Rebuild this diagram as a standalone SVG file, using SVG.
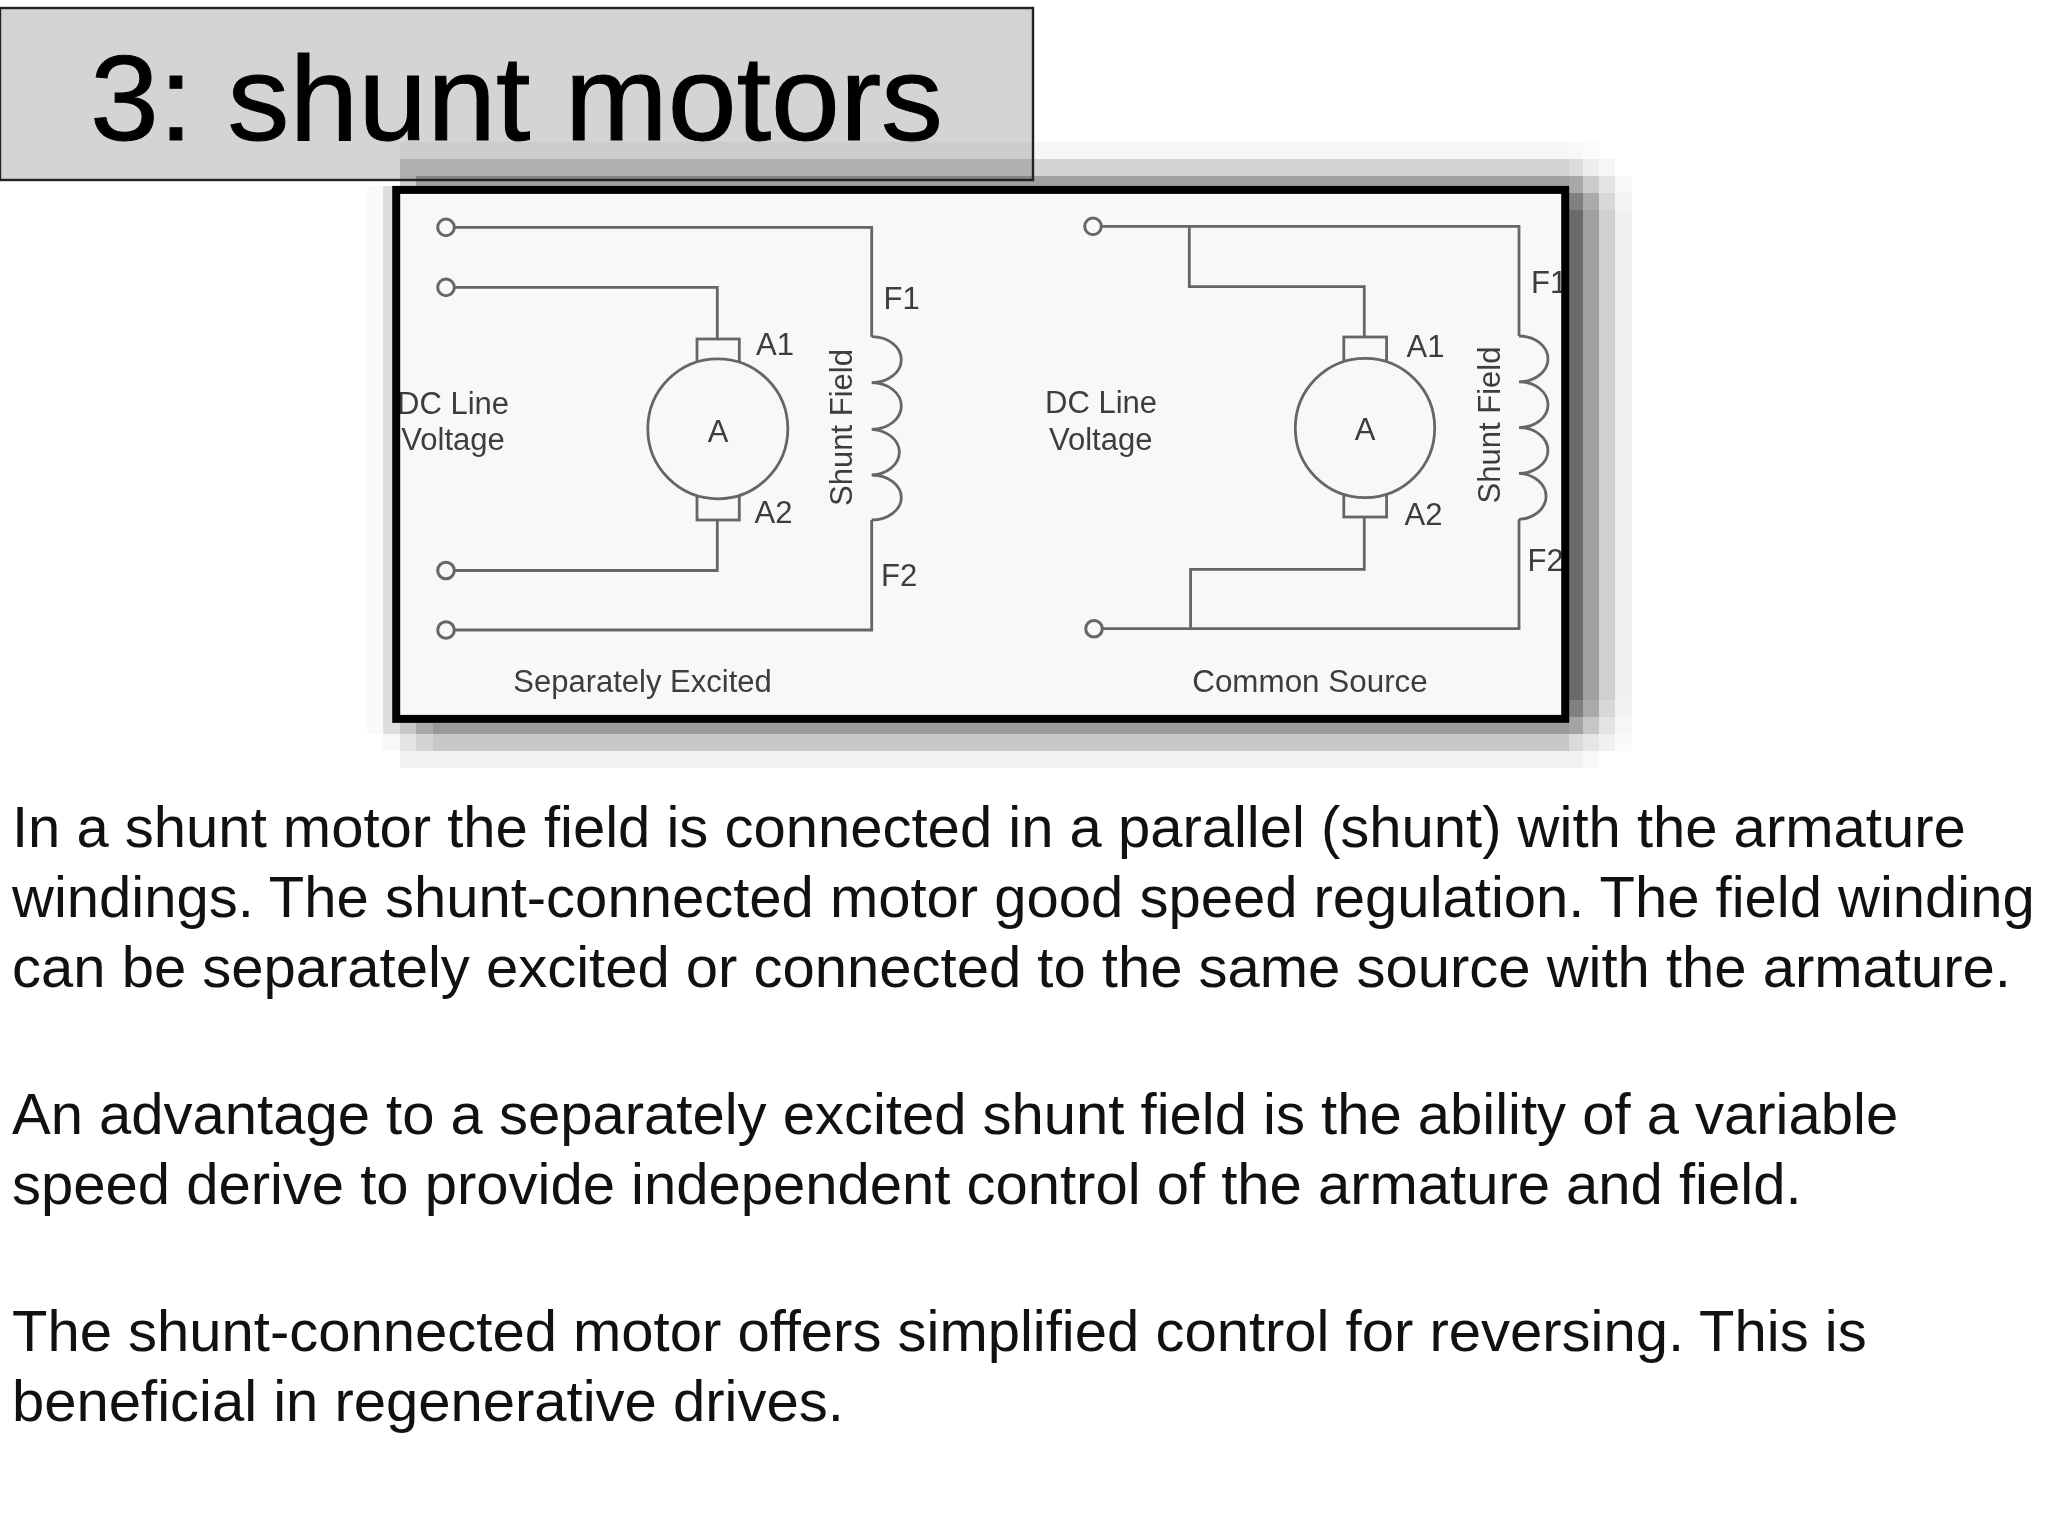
<svg xmlns="http://www.w3.org/2000/svg" width="2048" height="1536" viewBox="0 0 2048 1536">
<defs><filter id="soft" x="-2%" y="-2%" width="104%" height="104%"><feGaussianBlur stdDeviation="0.6"/></filter></defs>
<style>
.w{fill:none;stroke:#666;stroke-width:2.8}
.t{fill:#f8f8f8;stroke:#666;stroke-width:3}
.d{font-family:"Liberation Sans",Arial,sans-serif;font-size:31px;fill:#3c3c3c;text-anchor:middle}
.f{text-anchor:start}
.b{font-family:"Liberation Sans",Arial,sans-serif;font-size:58px;fill:#111}
</style>
<rect width="2048" height="1536" fill="#fff"/>
<g id="shadow" filter="url(#soft)">
<rect x="367" y="186" width="16" height="548" fill="#f9f9f9"/>
<rect x="383" y="186" width="9" height="540" fill="#dcdcdc"/>
<rect x="400" y="142" width="1169" height="17" fill="#f6f6f6"/>
<rect x="400" y="159" width="1169" height="17" fill="#d4d4d4"/>
<rect x="400" y="176" width="1169" height="10" fill="#d0d0d0"/>
<rect x="416" y="176" width="1153" height="10" fill="#a0a0a0"/>
<rect x="1569" y="210" width="14" height="490" fill="#6b6b6b"/>
<rect x="1583" y="210" width="16" height="490" fill="#a0a0a0"/>
<rect x="1599" y="210" width="16" height="490" fill="#d0d0d0"/>
<rect x="1615" y="210" width="17" height="490" fill="#f0f0f0"/>
<rect x="1569" y="142" width="14" height="17" fill="#f8f8f8"/>
<rect x="1583" y="142" width="16" height="17" fill="#fbfbfb"/>
<rect x="1569" y="159" width="14" height="17" fill="#dcdcdc"/>
<rect x="1583" y="159" width="16" height="17" fill="#eeeeee"/>
<rect x="1599" y="159" width="16" height="17" fill="#f6f6f6"/>
<rect x="1569" y="176" width="14" height="17" fill="#a8a8a8"/>
<rect x="1583" y="176" width="16" height="17" fill="#cccccc"/>
<rect x="1599" y="176" width="16" height="17" fill="#e4e4e4"/>
<rect x="1615" y="176" width="17" height="17" fill="#f8f8f8"/>
<rect x="1569" y="193" width="14" height="17" fill="#808080"/>
<rect x="1583" y="193" width="16" height="17" fill="#aaaaaa"/>
<rect x="1599" y="193" width="16" height="17" fill="#d8d8d8"/>
<rect x="1615" y="193" width="17" height="17" fill="#f4f4f4"/>
<rect x="1569" y="700" width="14" height="17" fill="#808080"/>
<rect x="1583" y="700" width="16" height="17" fill="#aaaaaa"/>
<rect x="1599" y="700" width="16" height="17" fill="#d8d8d8"/>
<rect x="1615" y="700" width="17" height="17" fill="#f2f2f2"/>
<rect x="1569" y="717" width="14" height="17" fill="#a4a4a4"/>
<rect x="1583" y="717" width="16" height="17" fill="#c6c6c6"/>
<rect x="1599" y="717" width="16" height="17" fill="#e4e4e4"/>
<rect x="1615" y="717" width="17" height="17" fill="#f6f6f6"/>
<rect x="1569" y="734" width="14" height="17" fill="#dadada"/>
<rect x="1583" y="734" width="16" height="17" fill="#e6e6e6"/>
<rect x="1599" y="734" width="16" height="17" fill="#f0f0f0"/>
<rect x="1615" y="734" width="17" height="17" fill="#fafafa"/>
<rect x="1569" y="751" width="14" height="17" fill="#f2f2f2"/>
<rect x="1583" y="751" width="16" height="17" fill="#f8f8f8"/>
<rect x="433" y="723" width="1136" height="11" fill="#999999"/>
<rect x="416" y="723" width="17" height="11" fill="#aaaaaa"/>
<rect x="400" y="723" width="16" height="11" fill="#c8c8c8"/>
<rect x="383" y="723" width="17" height="11" fill="#dedede"/>
<rect x="433" y="734" width="1136" height="17" fill="#c8c8c8"/>
<rect x="416" y="734" width="17" height="17" fill="#d4d4d4"/>
<rect x="400" y="734" width="16" height="17" fill="#e4e4e4"/>
<rect x="383" y="734" width="17" height="17" fill="#f8f8f8"/>
<rect x="400" y="751" width="1169" height="17" fill="#f2f2f2"/>
</g>
<rect id="panel" x="396" y="190" width="1169" height="529" fill="#f8f8f8"/>
<g id="content" filter="url(#soft)">
<g id="connectors">
<path class="w" d="M455 227.4H871.7V336.7M871.7 520V630H455"/>
<path class="w" d="M455 287.4H717.3V339M717.3 520V570.5H455"/>
<path class="w" d="M1102 226.4H1519V336M1519 519.3V628.7H1102"/>
<path class="w" d="M1189.3 226.4V286.6H1364.3V337M1364.3 517V569.4H1190.6V628.7"/>
</g>
<g id="left-terminals">
<circle class="t" cx="446" cy="227.4" r="8.3"/><circle class="t" cx="446" cy="287.4" r="8.3"/><circle class="t" cx="446" cy="570.5" r="8.3"/><circle class="t" cx="446" cy="630" r="8.3"/>
</g>
<g id="right-terminals">
<circle class="t" cx="1093" cy="226.4" r="8.3"/><circle class="t" cx="1094" cy="628.7" r="8.3"/>
</g>
<g id="left-motor">
<rect class="w" x="697" y="339" width="42.3" height="24"/>
<rect class="w" x="697" y="496" width="42.3" height="24"/>
<circle cx="717.8" cy="428.8" r="70" fill="#f8f8f8" stroke="#666" stroke-width="2.8"/>
<text class="d" x="718" y="441.5">A</text>
<text class="d" x="775" y="355">A1</text>
<text class="d" x="773.5" y="523">A2</text>
</g>
<g id="left-coil">
<path class="w" d="M871.7 336.7A29.6 23 0 0 1 871.7 382.7A29.6 23.3 0 0 1 871.7 429.3A29.6 22.9 0 0 1 871.7 475A29.6 22.5 0 0 1 871.7 520"/>
<text class="d f" x="883.5" y="309">F1</text>
<text class="d f" x="881" y="586">F2</text>
<text class="d" transform="translate(852 427.5) rotate(-90)">Shunt Field</text>
</g>
<g id="right-motor">
<rect class="w" x="1343.8" y="337" width="42.8" height="24"/>
<rect class="w" x="1343.8" y="494" width="42.8" height="23"/>
<circle cx="1365" cy="428" r="69.7" fill="#f8f8f8" stroke="#666" stroke-width="2.8"/>
<text class="d" x="1365" y="440">A</text>
<text class="d" x="1425.5" y="357">A1</text>
<text class="d" x="1423.5" y="525">A2</text>
</g>
<g id="right-coil">
<path class="w" d="M1519 336A29 22.9 0 0 1 1519 381.8A29 22.9 0 0 1 1519 427.6A29 22.9 0 0 1 1519 473.4A29 23 0 0 1 1519 519.3"/>
<text class="d f" x="1531" y="293">F1</text>
<text class="d f" x="1527.5" y="570.7">F2</text>
<text class="d" transform="translate(1500 425) rotate(-90)">Shunt Field</text>
</g>
<g id="labels">
<text class="d" x="453" y="414">DC Line</text>
<text class="d" x="453" y="450">Voltage</text>
<text class="d" x="1101" y="413">DC Line</text>
<text class="d" x="1100.7" y="450">Voltage</text>
<text class="d" x="642.5" y="692">Separately Excited</text>
<text class="d" x="1310" y="692" style="font-size:31.4px">Common Source</text>
</g>
</g>
<rect id="frame" x="396.2" y="189.9" width="1169" height="529" fill="none" stroke="#000" stroke-width="8"/>
<g id="title">
<rect x="0" y="8" width="1033" height="172" fill="#000" fill-opacity=".17"/>
<rect x="0" y="8" width="1033" height="172" fill="none" stroke="#222" stroke-width="2.4"/>
<text x="90" y="140" font-family="'Liberation Sans',Arial,sans-serif" font-size="120" textLength="853" lengthAdjust="spacingAndGlyphs" fill="#000" stroke="#000" stroke-width="1">3: shunt motors</text>
</g>
<g id="body">
<text class="b" x="12" y="847">In a shunt motor the field is connected in a parallel (shunt) with the armature</text>
<text class="b" x="12" y="917">windings. The shunt-connected motor good speed regulation. The field winding</text>
<text class="b" x="12" y="987">can be separately excited or connected to the same source with the armature.</text>
<text class="b" x="12" y="1134">An advantage to a separately excited shunt field is the ability of a variable</text>
<text class="b" x="12" y="1204">speed derive to provide independent control of the armature and field.</text>
<text class="b" x="12" y="1351">The shunt-connected motor offers simplified control for reversing. This is</text>
<text class="b" x="12" y="1421">beneficial in regenerative drives.</text>
</g>
</svg>
